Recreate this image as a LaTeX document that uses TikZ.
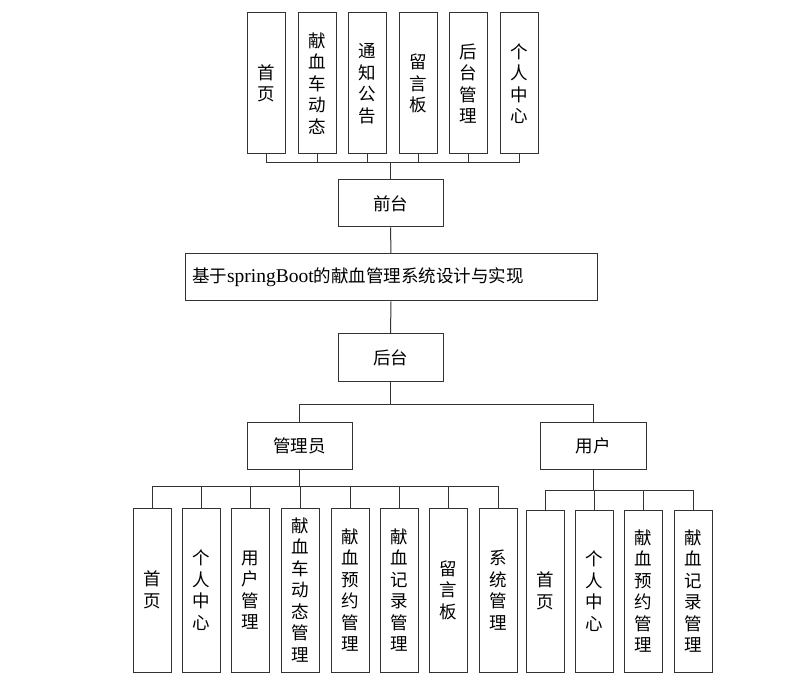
\documentclass[tikz,border=0pt]{standalone}
\usepackage{fontspec}
\setmainfont{Noto Sans CJK SC}
\newfontfamily\lat{Liberation Serif}
\begin{document}
\begin{tikzpicture}[x=1pt,y=-1pt,
 bx/.style={draw=black!80,line width=1pt,inner sep=0pt,font=\fontsize{17.5}{21.5}\selectfont},
 ln/.style={draw=black!80,line width=1pt}]
\useasboundingbox (0,0) rectangle (800,684);
\newcommand\myvbox[4]{\node[bx,minimum width=38pt,minimum height=#3pt,align=center] (#1) at (#2) {#4};}
% top
\myvbox{t1}{266,83.5}{141}{首\\页}
\myvbox{t2}{317,83.5}{141}{献\\血\\车\\动\\态}
\myvbox{t3}{367.5,83.5}{141}{通\\知\\公\\告}
\myvbox{t4}{418,83.5}{141}{留\\言\\板}
\myvbox{t5}{468.5,83.5}{141}{后\\台\\管\\理}
\myvbox{t6}{519,83.5}{141}{个\\人\\中\\心}
\node[bx,minimum width=105pt,minimum height=47pt] (qt) at (390.5,203.5) {前台};
\node[bx,minimum width=412pt,minimum height=47pt,text width=398pt,align=left] (main) at (391,277.5) {基于{\lat\fontsize{19.5}{21}\selectfont springBoot}的献血管理系统设计与实现};
\node[bx,minimum width=105pt,minimum height=47pt] (ht) at (390.5,357.5) {后台};
\node[bx,minimum width=105pt,minimum height=47pt] (gly) at (299.5,445.5) {管理员};
\node[bx,minimum width=106pt,minimum height=47pt] (yh) at (593,445.5) {用户};
% bottom admin
\myvbox{a1}{152,590}{164}{首\\页}
\myvbox{a2}{201,590}{164}{个\\人\\中\\心}
\myvbox{a3}{250.5,590}{164}{用\\户\\管\\理}
\myvbox{a4}{300.5,590}{164}{献\\血\\车\\动\\态\\管\\理}
\myvbox{a5}{350,590}{164}{献\\血\\预\\约\\管\\理}
\myvbox{a6}{399,590}{164}{献\\血\\记\\录\\管\\理}
\myvbox{a7}{448,590}{164}{留\\言\\板}
\myvbox{a8}{498,590}{164}{系\\统\\管\\理}
\myvbox{u1}{545,591}{162}{首\\页}
\myvbox{u2}{594,591}{162}{个\\人\\中\\心}
\myvbox{u3}{643.5,591}{162}{献\\血\\预\\约\\管\\理}
\myvbox{u4}{693,591}{162}{献\\血\\记\\录\\管\\理}
% connectors
\foreach \n in {t1,t2,t3,t4,t5,t6} \draw[ln] (\n.south) -- ++(0,8) -| (qt.north);
\draw[ln] (qt.south) -- (main.north);
\draw[ln] (main.south) -- (ht.north);
\draw[ln] (ht.south) -- ++(0,23) -| (gly.north);
\draw[ln] (ht.south) -- ++(0,23) -| (yh.north);
\foreach \n in {a1,a2,a3,a4,a5,a6,a7,a8} \draw[ln] (gly.south) -- ++(0,17) -| (\n.north);
\foreach \n in {u1,u2,u3,u4} \draw[ln] (yh.south) -- ++(0,21) -| (\n.north);
\end{tikzpicture}
\end{document}
